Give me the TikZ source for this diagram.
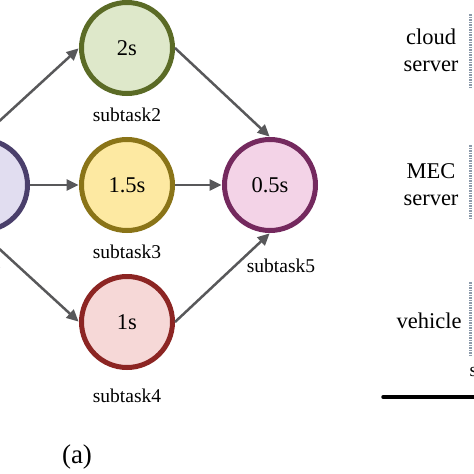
\documentclass[tikz,border=0pt]{standalone}
\usepackage{fontspec}
\setmainfont{Liberation Serif}
\usetikzlibrary{arrows.meta}
\definecolor{bdA}{HTML}{4A3F6B}\definecolor{flA}{HTML}{E1DDF0}
\definecolor{bdB}{HTML}{5B6B26}\definecolor{flB}{HTML}{DEE8CA}
\definecolor{bdC}{HTML}{8A7418}\definecolor{flC}{HTML}{FDE9A2}
\definecolor{bdD}{HTML}{8C2523}\definecolor{flD}{HTML}{F6D8D7}
\definecolor{bdE}{HTML}{74295E}\definecolor{flE}{HTML}{F3D3E7}
\definecolor{arr}{HTML}{58585A}
\definecolor{dsh}{HTML}{8C9AAA}
\begin{document}
\begin{tikzpicture}[x=1pt,y=-1pt,
  task/.style={circle,line width=5pt,minimum size=91pt,inner sep=0pt,font=\fontsize{22.5}{24}\selectfont},
  lbl/.style={font=\fontsize{19.5}{21}\selectfont},
  side/.style={font=\fontsize{22.5}{27}\selectfont,align=center},
  conn/.style={arr,line width=2.5pt,-{Triangle[length=12pt,width=11pt]},shorten >=0.5pt},
  dline/.style={dsh,line width=3pt,dash pattern=on 1.5pt off 1pt}]
\useasboundingbox (0,0) rectangle (474,474);
\clip (0,0) rectangle (474,474);
\node[task,draw=bdA,fill=flA] (n1) at (-18,185) {};
\node[task,draw=bdB,fill=flB] (n2) at (127,48) {2s};
\node[task,draw=bdC,fill=flC] (n3) at (127,185) {1.5s};
\node[task,draw=bdD,fill=flD] (n4) at (127,322) {1s};
\node[task,draw=bdE,fill=flE] (n5) at (270,185) {0.5s};
\node[lbl,anchor=east] (l1) at (5,262) {subtask1};
\node[lbl] (l2) at (127,115) {subtask2};
\node[lbl] (l3) at (127,252) {subtask3};
\node[lbl] (l4) at (127,396) {subtask4};
\node[lbl] (l5) at (281,266) {subtask5};
\draw[conn] (n1.north) -- (n2.west);
\draw[conn] (n1.east) -- (n3.west);
\draw[conn] (n1.south) -- (n4.west);
\draw[conn] (n3.east) -- (n5.west);
\draw[conn] (n2.east) -- (n5.north);
\draw[conn] (n4.east) -- (n5.south);
\node[side] (s1) at (431,50) {cloud\\server};
\node[side] (s2) at (431,185) {MEC\\server};
\node[side] (s3) at (429,321) {vehicle};
\coordinate (d1a) at (470,14); \coordinate (d1b) at (470,88);
\coordinate (d2a) at (470,145); \coordinate (d2b) at (470,218);
\coordinate (d3a) at (470,282); \coordinate (d3b) at (470,357);
\draw[dline] (d1a) -- (d1b);
\draw[dline] (d2a) -- (d2b);
\draw[dline] (d3a) -- (d3b);
\node[lbl,anchor=west] (sx) at (466,372) {s};
\coordinate (ba) at (383,397); \coordinate (bb) at (480,397);
\draw[black,line width=3.5pt,line cap=round] (ba) -- (bb);
\node[font=\fontsize{27}{29}\selectfont] (cap) at (77,457) {(a)};
\end{tikzpicture}
\end{document}
